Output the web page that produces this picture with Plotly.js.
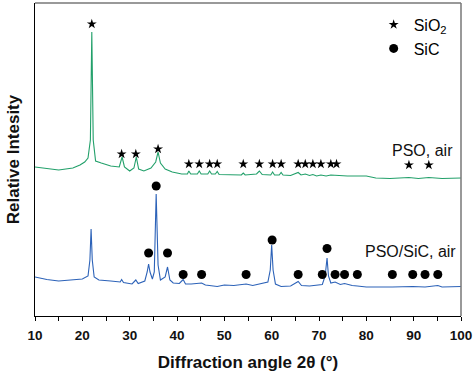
<!DOCTYPE html>
<html>
<head>
<meta charset="utf-8">
<script src="https://cdn.plot.ly/plotly-3.0.1.min.js"></script>
<style>html,body{margin:0;padding:0;background:#fff;}#chart{width:474px;height:373px;}</style>
</head>
<body>
<div id="chart"></div>
<script>
// PSO, air (green) : 2theta / intensity (a.u., offset)
var psoAngle = [10,12.5,15,18,19.5,20.5,21.2,21.7,22.0,22.3,22.8,24,26,27.8,28.4,28.9,30.0,30.9,31.4,31.9,33,34.5,35.5,36.0,36.5,37.5,39,41,42.2,42.5,42.9,44.3,44.7,45.1,46.5,46.9,47.3,48.1,48.5,48.9,51,53.6,54.0,54.4,56.8,57.4,58,59.8,60.2,60.6,61.6,62.0,62.4,64,65.6,66.2,67.1,68,68.7,69.5,70.4,71.5,72.5,73.7,76,80,82,85,89,91,93.2,96,100];
var psoInt = [149,147.5,146,148,151,154,158,176,284,176,155,153,150,149,159,149,145,148,159,147,145,148,154,164,153,147,144,142,142,145,142,142,145,142,142,145,142,142,144.5,141.5,141,141,143,141,142,145,141.5,141,144,141,141,143.5,141,140.5,143.5,141,142,140.5,141.5,140,141,140,141,140.5,140,140,138,137.5,138.5,137.5,138.5,137.5,138];

// PSO/SiC, air (blue)
var sicAngle = [10,12.5,15,18,20,21.2,21.6,21.85,22.1,22.5,23.5,26,28.0,28.3,28.7,30.5,31.3,31.8,33.2,33.7,34.0,34.3,34.8,35.2,35.6,36.0,36.5,37.5,38.0,38.5,39.2,40.5,41.3,41.8,43,45.2,46,48.5,50,52,54.6,56,57.5,59.2,59.7,60.0,60.3,60.8,62,64,65.6,66.3,68,70.7,71.3,71.7,72.0,72.5,73.4,74.5,75.4,77,78.1,80,85.5,89.8,92.4,95.1,96,100];
var sicInt = [39,36.5,35,36,37,40,56,87,56,39,36,35,34,36.5,33.5,32,36,32.5,35,44,52,44,37,44,122,51,36,39,49,36,33,32.5,36.5,32,32,33,31,29.5,31,30.5,32,30.5,32,34,46,71,46,32,29.5,30,34.5,30.5,30,31.5,40,58,40,33,34,31.5,32.5,30.5,30,29,29,29.5,29,30.5,29,29.5];

// Phase markers
var sio2Peaks = [22.0,28.3,31.3,36.0,42.5,44.7,46.9,48.5,54.0,57.4,60.2,62.0,65.6,67.1,68.7,70.4,72.5,73.7,89.0,93.2];
var sio2MarkY = [292,162,162,167,152,152,152,152,152,152,152,152,152,152,152,152,152,152,151,151];
var sicPeaks = [34.0,35.6,38.0,41.3,45.2,54.6,60.1,65.6,70.7,71.7,73.4,75.4,78.1,85.5,89.8,92.4,95.1];
var sicMarkY = [63,130,63,41.5,41.5,41.5,76,41.5,41.5,67.5,41.5,41.5,41.5,41.5,41.5,41.5,41.5];

var xTickVals = [10,20,30,40,50,60,70,80,90,100];
var xTickText = ['10','20','30','40','50','60','70','80','90','100'];

var FONT = 'Liberation Sans, Arial, sans-serif';

var traces = [
  {x: psoAngle, y: psoInt, mode: 'lines', line: {color: '#22a06a', width: 1.1}, showlegend: false, hoverinfo: 'skip'},
  {x: sicAngle, y: sicInt, mode: 'lines', line: {color: '#2c62b8', width: 1.1}, showlegend: false, hoverinfo: 'skip'},
  {x: sio2Peaks, y: sio2MarkY, mode: 'markers', name: 'SiO<sub>2</sub>', marker: {symbol: 'star', size: 7.5, color: '#000'}},
  {x: sicPeaks, y: sicMarkY, mode: 'markers', name: 'SiC', marker: {symbol: 'circle', size: 9, color: '#000'}}
];

var layout = {
  width: 474, height: 373,
  margin: {l: 35, r: 13, t: 3, b: 57},
  paper_bgcolor: '#fff', plot_bgcolor: '#fff',
  font: {family: FONT, color: '#000'},
  xaxis: {
    range: [10, 100], tickvals: xTickVals, ticktext: xTickText,
    ticks: 'outside', ticklen: 4, tickwidth: 1, tickcolor: '#000',
    minor: {dtick: 5, tick0: 0, ticks: 'outside', ticklen: 4, tickcolor: '#000'},
    showline: true, linecolor: '#000', linewidth: 1.2, showgrid: false, zeroline: false,
    ticklabelstandoff: 3,
    tickfont: {family: FONT, size: 13.5, weight: 'bold', color: '#111'},
    title: {text: 'Diffraction angle 2θ (°)', font: {family: FONT, size: 17, weight: 'bold', color: '#111'}, standoff: 13}
  },
  yaxis: {
    range: [0, 313], showticklabels: false, ticks: '', showgrid: false, zeroline: false,
    showline: true, linecolor: '#000', linewidth: 1.2,
    title: {text: 'Relative Intesity', font: {family: FONT, size: 17, weight: 'bold', color: '#111'}, standoff: 9}
  },
  showlegend: true,
  legend: {x: 0.795, xanchor: 'left', y: 0.985, yanchor: 'top', bgcolor: 'rgba(0,0,0,0)',
           font: {family: FONT, size: 16, color: '#000'}, tracegroupgap: 0},
  shapes: [
    {type: 'line', xref: 'paper', yref: 'paper', x0: 0, x1: 1, y0: 1, y1: 1, line: {color: '#777', width: 1.5}},
    {type: 'line', xref: 'paper', yref: 'paper', x0: 1, x1: 1, y0: 0, y1: 1, line: {color: '#777', width: 1.5}}
  ],
  annotations: [
    {text: 'PSO, air', xref: 'paper', yref: 'paper', x: 0.985, y: 0.53, xanchor: 'right', yanchor: 'middle', showarrow: false, font: {family: FONT, size: 16, color: '#111'}},
    {text: 'PSO/SiC, air', xref: 'paper', yref: 'paper', x: 0.993, y: 0.207, xanchor: 'right', yanchor: 'middle', showarrow: false, font: {family: FONT, size: 16, color: '#111'}}
  ]
};

Plotly.newPlot('chart', traces, layout, {displayModeBar: false, staticPlot: true});
</script>
</body>
</html>
